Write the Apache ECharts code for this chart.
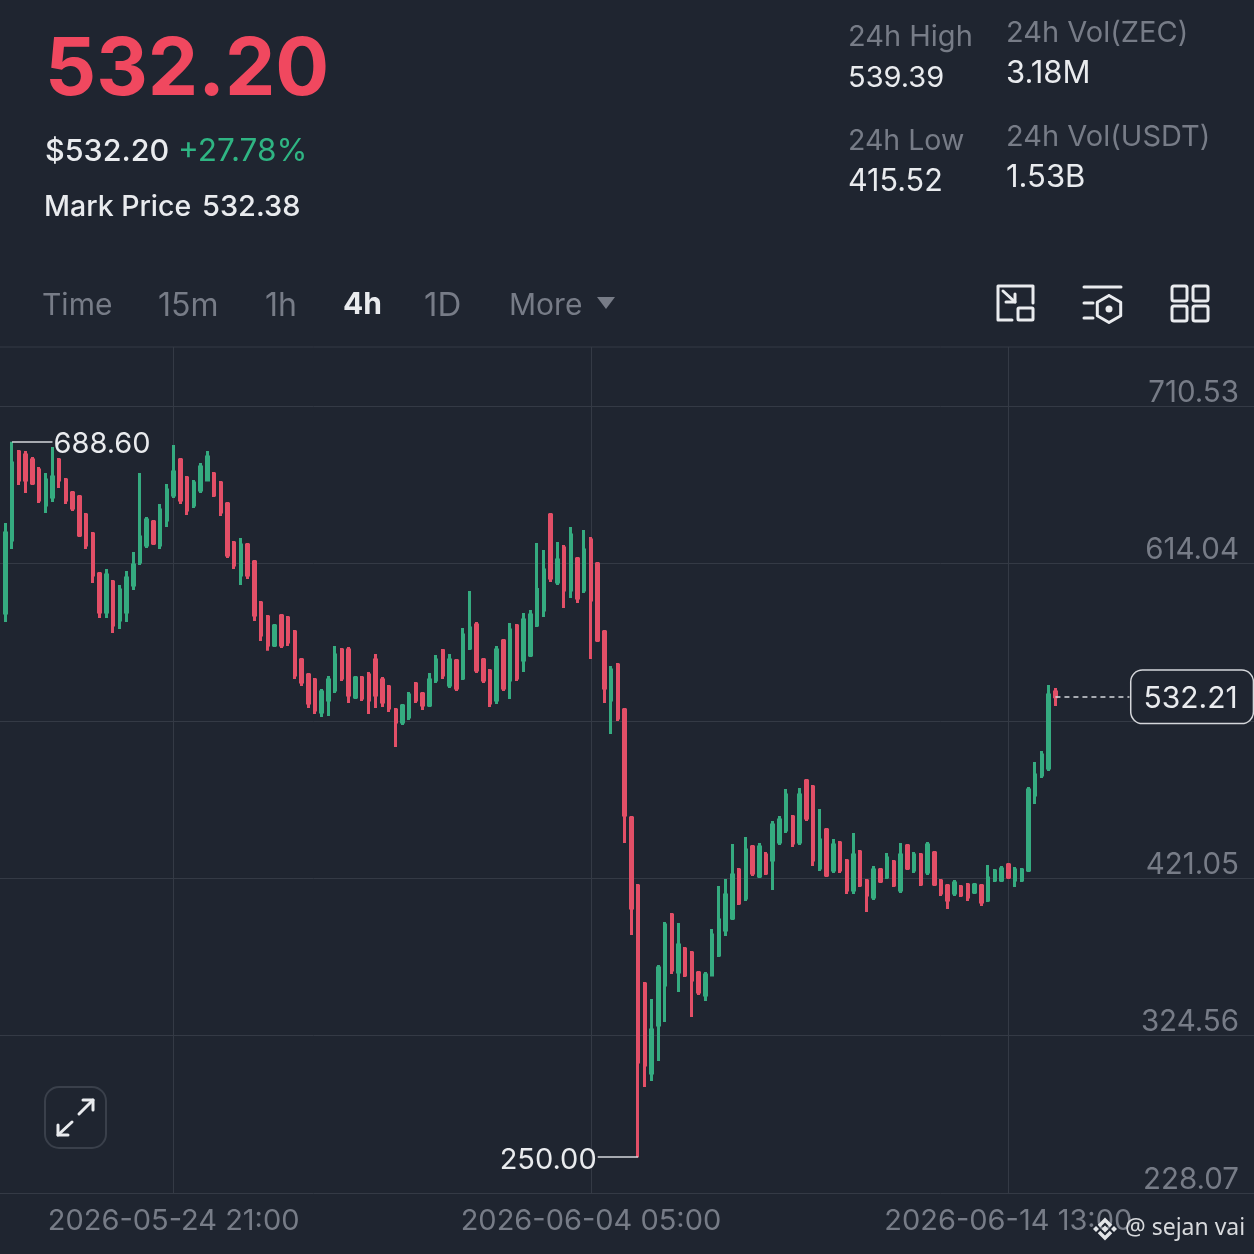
<!DOCTYPE html>
<html>
<head>
<meta charset="utf-8">
<style>html,body{margin:0;padding:0;background:#1f2530}#c{width:1254px;height:1254px}</style>
<script src="https://cdn.jsdelivr.net/npm/echarts@6/dist/echarts.min.js"></script>
</head>
<body>
<div id="c"></div>
<script>
const directions = 'GGRRRRGGRR'+'RRRRRGRGGG'+'GGRGGGRRGG'+'GRRRRGRRRR'+'GRRRRRRGGG'+'RRGRRRRRRG'+'GRRGGRGRGG'+'RRRGRGRGGG'+'GRGRGRGRRR'+'GRRRRRGGGR'+'GRRRGGGGGR'+'GRGRGGGRGR'+'RGRGRRGRRG'+'RGRGRGRGRR'+'RGRRGRGGGR'+'GGGGGGR';
const highs = [
638.8,688.6,683.6,682.9,679.3,673.1,669.4,685.4,678.6,666.4,
658.4,656.0,644.9,633.3,608.8,610.6,603.9,600.8,609.4,621.0,
669.4,642.5,640.6,650.4,662.7,686.6,678.6,667.6,665.2,675.6,
682.9,670.1,664.6,651.7,627.8,629.6,626.5,616.1,591.0,582.4,
576.9,583.0,581.8,573.2,556.0,546.9,543.8,537.0,545.0,563.4,
562.2,562.8,545.0,545.0,547.5,558.5,544.4,539.5,525.4,527.8,
535.2,541.3,535.2,546.9,557.9,561.6,558.5,555.4,574.4,597.1,
578.1,556.0,549.3,563.4,567.7,577.5,576.9,583.6,585.5,626.5,
622.3,644.9,627.2,625.3,636.3,618.0,634.5,630.2,614.9,573.2,
551.1,553.0,525.4,459.2,417.5,357.4,347.0,367.9,394.2,399.7,
393.6,378.9,376.4,364.2,363.6,389.9,416.3,420.6,442.0,427.3,
446.3,441.4,442.6,437.1,456.1,459.2,475.7,459.8,476.4,481.9,
478.2,463.5,451.8,445.1,443.9,432.8,448.8,438.4,420.6,428.5,
427.3,436.5,432.2,442.6,442.0,437.1,436.5,443.2,437.7,420.6,
417.5,420.0,416.9,418.1,418.1,417.5,429.1,426.7,428.5,430.4,
427.9,427.3,477.0,492.3,499.0,539.5,537.7];
const bodyTops = [
632.7,675.6,682.3,680.5,677.4,671.3,665.2,667.0,677.4,665.2,
657.2,654.7,643.7,632.1,607.5,606.9,602.6,597.7,605.1,613.0,
630.2,640.6,639.4,646.8,659.0,670.1,677.4,666.4,663.3,673.1,
679.3,668.8,663.3,650.4,626.5,625.3,625.3,614.9,589.8,581.2,
575.7,581.8,580.6,572.0,554.8,545.6,542.6,535.2,542.6,557.9,
561.0,561.0,543.8,543.8,545.6,554.8,542.6,538.3,524.2,526.6,
533.4,540.1,534.0,542.6,554.8,560.4,554.8,554.2,570.1,574.4,
576.3,554.8,548.1,561.0,566.5,573.2,575.7,579.3,582.4,598.0,
610.0,643.7,616.1,623.5,631.4,616.7,622.3,628.4,613.7,572.0,
548.7,551.8,524.2,458.0,416.3,356.2,328.0,366.0,392.4,398.5,
380.1,377.7,375.2,363.0,361.7,386.2,395.4,410.8,423.0,426.1,
438.4,440.2,440.2,435.3,453.7,456.7,472.1,458.6,472.1,480.6,
477.0,444.5,450.6,441.4,442.6,431.6,435.3,437.1,419.4,426.1,
426.1,433.4,431.0,435.3,440.8,435.3,435.3,441.4,436.5,419.4,
416.3,418.1,415.7,416.9,416.9,416.3,421.2,425.5,426.7,429.1,
426.1,426.1,475.1,484.3,496.6,533.4,535.2];
const bodyBottoms = [
583.6,628.4,665.2,665.2,663.3,652.9,649.8,654.7,665.2,652.9,
648.0,631.4,625.3,606.9,584.2,584.2,576.3,579.3,584.2,600.8,
614.9,625.3,626.5,625.3,640.6,656.0,652.9,646.8,649.8,659.0,
665.2,656.0,645.5,619.2,613.0,606.9,606.9,582.4,570.2,564.0,
564.0,564.0,565.9,545.6,541.3,528.5,524.2,522.9,530.3,536.4,
543.8,533.4,532.1,531.5,530.3,533.4,529.1,525.4,516.8,516.8,
519.9,530.3,527.2,527.2,542.6,545.6,539.5,537.7,543.8,562.2,
548.7,542.6,528.5,530.3,537.7,542.6,543.8,554.8,557.9,576.3,
585.5,605.1,602.6,597.7,597.7,592.8,597.7,591.6,567.1,537.7,
530.3,519.3,459.8,402.8,308.4,306.6,301.6,331.1,355.6,364.8,
363.6,361.7,358.7,351.3,349.5,361.7,374.0,389.3,396.7,405.8,
408.9,424.2,422.4,424.2,432.2,443.2,450.6,442.6,443.2,458.0,
432.2,427.3,423.0,426.1,426.1,413.8,413.8,416.9,410.8,409.5,
419.4,421.8,416.9,413.8,427.3,426.1,417.5,424.8,417.5,412.0,
407.7,412.0,410.8,409.5,412.6,406.5,407.7,420.0,420.0,421.8,
420.0,420.0,426.1,472.0,484.3,488.6,532.2];
const lows = [
578.1,622.9,662.1,657.2,662.1,651.1,644.9,651.7,660.3,650.4,
646.2,630.2,622.9,602.0,580.6,580.6,571.4,573.8,578.1,597.7,
613.0,623.5,625.3,622.9,636.3,654.1,650.4,643.7,648.0,657.2,
664.6,654.7,643.1,617.3,610.6,600.8,604.5,578.7,566.5,560.4,
562.8,562.2,563.4,543.2,538.9,525.4,521.7,519.9,520.5,534.6,
541.9,528.5,530.9,529.7,521.7,525.4,526.0,523.0,501.5,515.0,
518.0,528.5,524.2,526.0,540.7,543.2,537.7,535.8,542.6,561.0,
546.9,540.7,526.0,527.8,535.8,530.9,541.9,547.5,556.7,575.0,
581.2,602.6,600.8,586.7,592.8,589.8,595.9,555.4,565.9,528.5,
509.5,517.4,442.6,386.2,250.0,293.0,296.8,309.0,332.9,362.3,
351.3,360.5,336.0,349.5,345.8,361.1,372.8,385.6,395.4,404.6,
407.1,422.4,421.2,423.0,413.8,441.4,448.8,440.2,441.4,456.1,
428.5,425.5,421.8,424.2,424.2,411.4,411.4,415.7,400.3,407.7,
418.1,420.6,415.7,412.0,426.1,424.2,416.3,423.0,416.3,410.2,
402.2,410.2,409.5,407.1,411.4,404.0,406.5,418.7,418.7,420.6,
415.7,418.7,424.9,466.5,482.5,486.8,526.6];

const gridPrices = [710.53, 614.04, 517.55, 421.05, 324.56, 228.07];
const labelPrices = [710.53, 614.04, 421.05, 324.56, 228.07];
const axisMin = 228.07, axisMax = 746.67;
const tickIndexes = [25, 87, 149];
const highMark = 688.6, lowMark = 250.0, lastPrice = 532.21;

const BG='#1f2530', GRID='#343a45', RED='#e24f67', GREEN='#35ab80', MUTED='#777c87', WHITE='#e9ebee';
const FONT='Inter, "Noto Sans", sans-serif';

// 4h categories starting 2026-05-20 17:00
const categories = [];
const pad = n => String(n).padStart(2,'0');
for (let i=0;i<186;i++){
  const d = new Date(Date.UTC(2026,4,20,17) + i*4*3600*1000);
  categories.push(d.getUTCFullYear()+'-'+pad(d.getUTCMonth()+1)+'-'+pad(d.getUTCDate())+' '+pad(d.getUTCHours())+':'+pad(d.getUTCMinutes()));
}
const candles = highs.map((h,i)=>{
  const up = directions[i]==='G';
  return [up?bodyBottoms[i]:bodyTops[i], up?bodyTops[i]:bodyBottoms[i], lows[i], h];
});

const txt=(text,x,y,size,fill,weight,align)=>({type:'text',x,y,z:10,silent:true,style:{text,fontSize:size,fontFamily:FONT,fontWeight:weight||400,fill,textVerticalAlign:'middle',textAlign:align||'left'}});
const stroke={stroke:WHITE,lineWidth:3,fill:'none',lineCap:'round',lineJoin:'round'};
const pl=(points,o)=>({type:'polyline',z:10,silent:true,shape:{points},style:Object.assign({},stroke,o||{})});
const rr=(x,y,w,h,r,o)=>({type:'rect',z:10,silent:true,shape:{x,y,width:w,height:h,r},style:Object.assign({},stroke,o||{})});
const hex=[];[0,1,2,3,4,5].forEach(k=>{const a=Math.PI/3*k-Math.PI/2;hex.push([1109+13.5*Math.cos(a),309+13.5*Math.sin(a)]);});hex.push(hex[0]);
const dia=(cx,cy,r,fill)=>({type:'polygon',z:10,silent:true,shape:{points:[[cx,cy-r],[cx+r,cy],[cx,cy+r],[cx-r,cy]]},style:{fill}});
const chev=(cx,cy,up)=>pl(up?[[cx-6,cy+5],[cx,cy-1],[cx+6,cy+5]]:[[cx-6,cy-5],[cx,cy+1],[cx+6,cy-5]],{stroke:'#e3e5e8',lineWidth:3.5,lineCap:'butt',lineJoin:'miter'});

const graphics=[
  {type:'line',silent:true,z:1,shape:{x1:0,y1:347,x2:1254,y2:347},style:{stroke:GRID,lineWidth:1}},
  txt('532.20',45,71,80,'#f0485f',700),
  txt('$532.20',45,152,30.5,WHITE,500),
  txt('+27.78%',178,152,31.5,'#2fb583',400),
  txt('Mark Price',44,207,28.5,WHITE,500),
  txt('532.38',202,207,29,WHITE,500),
  txt('24h High',848,37,29,MUTED),
  txt('539.39',848,78,29,WHITE),
  txt('24h Vol(ZEC)',1006,33,29,MUTED),
  txt('3.18M',1006,74,31,WHITE),
  txt('24h Low',848,141,28.5,MUTED),
  txt('415.52',848,182,30.5,WHITE),
  txt('24h Vol(USDT)',1006,137,29,MUTED),
  txt('1.53B',1006,178,31,WHITE),
  txt('Time',42,306,30,MUTED),
  txt('15m',158,306,32,MUTED),
  txt('1h',265,306,32,MUTED),
  txt('4h',343,305,30,WHITE,700),
  txt('1D',424,306,33,MUTED),
  txt('More',509,306,30,MUTED),
  {type:'polygon',z:10,silent:true,shape:{points:[[597,297],[615,297],[606,309]]},style:{fill:MUTED}},
  // icon 1
  pl([[1033,303],[1033,286],[998,286],[998,320],[1012,320]]),
  rr(1018,308,15,12,1),
  pl([[1003,291],[1015,302]]),
  pl([[1015,294],[1015,302],[1006,302]]),
  // icon 2
  pl([[1084,287],[1121,287]]),
  pl([[1084,303],[1093,303]]),
  pl([[1084,318],[1093,318]]),
  pl(hex),
  {type:'circle',z:10,silent:true,shape:{cx:1109,cy:309,r:3.5},style:{fill:WHITE}},
  // icon 3
  rr(1172,286,15,15,2), rr(1193,286,15,15,2), rr(1172,306,15,15,2), rr(1193,306,15,15,2),
  // expand button
  rr(45,1087,61,61,14,{stroke:'#3a404b',lineWidth:2}),
  pl([[79,1114],[93,1100]]), pl([[83,1100],[93,1100],[93,1110]]),
  pl([[72,1122],[58,1135]]), pl([[58,1125],[58,1135],[68,1135]]),
  // watermark
  dia(1105,1229,3.5,'#e3e5e8'), dia(1096,1229,3,'#e3e5e8'), dia(1114,1229,3,'#e3e5e8'),
  chev(1105,1221,true), chev(1105,1237,false),
  txt('@ sejan vai',1125,1228,23,'#d8dadd',400),
];
graphics.find(g=>g.style&&g.style.text==='@ sejan vai').style.fontFamily='"Noto Sans", sans-serif';

const markLabel=(text)=>({show:true,position:'end',distance:1,formatter:'{a|'+text+'}',rich:{a:{color:WHITE,fontSize:29,fontFamily:FONT,padding:[6,0,0,0]}}});
const solid={color:'#d5d7db',width:1.5,type:'solid'};

const option={
  animation:false,
  backgroundColor:BG,
  graphic:graphics,
  grid:[
    {left:2,top:347,width:1254,height:846,containLabel:false},
    {left:0,top:347,width:1254,height:846,containLabel:false}
  ],
  xAxis:[{
    type:'category',data:categories,boundaryGap:true,gridIndex:0,
    axisLine:{show:false},axisTick:{show:false},
    axisLabel:{interval:(i)=>tickIndexes.includes(i),color:MUTED,fontSize:29,fontFamily:FONT,margin:14,hideOverlap:false},
    splitLine:{show:true,alignWithLabel:true,interval:(i)=>tickIndexes.includes(i),lineStyle:{color:GRID,width:1}}
  },{
    type:'value',gridIndex:1,min:0,max:1,show:false
  }],
  yAxis:[{
    type:'value',position:'right',min:axisMin,max:axisMax,scale:true,gridIndex:0,
    axisLine:{show:false},axisTick:{show:false,customValues:gridPrices},
    axisLabel:{inside:true,margin:15,customValues:labelPrices,color:MUTED,fontSize:29.5,lineHeight:26,fontFamily:FONT,verticalAlign:'bottom',formatter:v=>Number(v).toFixed(2)},
    splitLine:{show:false}
  },{
    type:'value',min:axisMin,max:axisMax,scale:true,gridIndex:1,
    axisLine:{show:false},axisTick:{show:false,customValues:gridPrices},axisLabel:{show:false},
    splitLine:{show:true,lineStyle:{color:GRID,width:1}}
  }],
  series:[{
    type:'candlestick',data:candles,barWidth:2,xAxisIndex:0,yAxisIndex:0,
    itemStyle:{color:GREEN,color0:RED,borderColor:GREEN,borderColor0:RED,borderWidth:3},
    markLine:{
      symbol:'none',silent:true,animation:false,
      data:[
        [{coord:[categories[1],highMark],lineStyle:solid,label:markLabel(highMark.toFixed(2))},{coord:[categories[7],highMark]}],
        [{coord:[categories[94],lowMark],lineStyle:solid,label:markLabel(lowMark.toFixed(2))},{coord:[categories[88],lowMark]}],
        [{coord:[categories[156],lastPrice],lineStyle:{color:'#d5d7db',width:1.5,type:[5,4]},
          label:{show:true,position:'end',distance:2,formatter:'{a|'+lastPrice.toFixed(2)+'}',rich:{a:{color:WHITE,fontSize:30,fontFamily:FONT,padding:[7,0,0,0]}},backgroundColor:BG,borderColor:'#d5d7db',borderWidth:1.5,borderRadius:11,padding:[6,15,9,12]}},
         {coord:[categories[167],lastPrice]}]
      ]
    }
  }]
};
const chart=echarts.init(document.getElementById('c'),null,{renderer:'canvas',width:1254,height:1254});
chart.setOption(option);
</script>
</body>
</html>
